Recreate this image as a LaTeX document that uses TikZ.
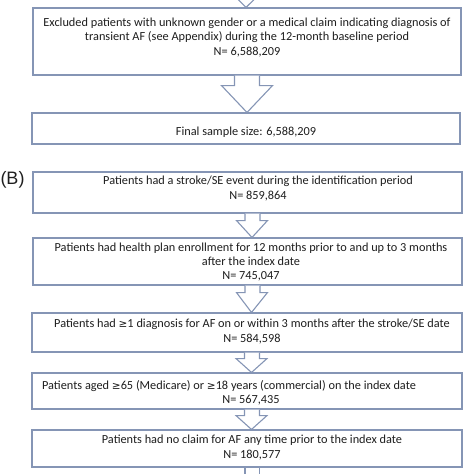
\documentclass[tikz,border=0pt]{standalone}
\usepackage{fontspec}
\setmainfont{Carlito}
\newfontfamily\labfont{Liberation Sans}
\newcommand{\geqs}{{\fontspec{DejaVu Sans}\fontsize{10.5}{14}\selectfont ≥}}
\usetikzlibrary{calc}
\definecolor{bord}{HTML}{8595B5}
\definecolor{ink}{HTML}{1E1E1E}
\tikzset{
  box/.style={draw=bord, line width=1.1pt, fill=white, inner sep=0pt},
  txt/.style={text=ink, align=center, font=\fontsize{12.3}{14.4}\selectfont, inner sep=0pt},
  blockarrow/.style={draw=bord, line width=1.1pt, fill=white, line join=miter},
}
\begin{document}
\begin{tikzpicture}[x=1pt,y=-1pt]
\useasboundingbox (0,0) rectangle (474,474);
% ---------- panel A ----------
\node[box, minimum width=428pt, minimum height=67pt] (a1) at (247,41.5) {};
\node[txt] (ta1) at (247,37.5) {Excluded patients with unknown gender or a medical claim indicating diagnosis of\\transient AF (see Appendix) during the 12-month baseline period\\N= 6,588,209};
\node[box, minimum width=428pt, minimum height=31pt] (a2) at (246,128.5) {};
\node[txt] (ta2) at (246,132) {Final sample size: 6,588,209};
% top arrow head (cut at the top edge)
\draw[blockarrow] ($(a1.north)+(-25.5,-25)$) -- ($(a1.north)+(-1,0)$) -- ($(a1.north)+(24.5,-25)$);
% arrow a1 -> a2
\draw[blockarrow] ($(a1.south)+(-12.5,0)$) -- ($(a1.south)+(-12.5,10)$) -- ($(a1.south)+(-25.5,10)$)
  -- ($(a2.north)+(1,0)$) -- ($(a1.south)+(25.5,10)$) -- ($(a1.south)+(12.5,10)$) -- ($(a1.south)+(12.5,0)$);
% ---------- panel B ----------
\node[font=\labfont\fontsize{18}{20}\selectfont, text=ink, inner sep=0pt] (lab) at (12.5,180) {(B)};
\node[box, minimum width=429pt, minimum height=41pt] (b1) at (247.5,192.5) {};
\node[txt] (tb1) at (258,188.5) {Patients had a stroke/SE event during the identification period\\N= 859,864};
\node[box, minimum width=429pt, minimum height=47pt] (b2) at (247.5,261.5) {};
\node[txt] (tb2) at (251,262) {Patients had health plan enrollment for 12 months prior to and up to 3 months\\after the index date\\N= 745,047};
\node[box, minimum width=430pt, minimum height=39pt] (b3) at (247,332.5) {};
\node[txt] (tb3) at (252,331.5) {Patients had \geqs1 diagnosis for AF on or within 3 months after the stroke/SE date\\N= 584,598};
\node[box, minimum width=430pt, minimum height=36pt] (b4) at (247,391) {};
\node[txt] (tb4) at (229,392.5) {Patients aged \geqs65 (Medicare) or \geqs18 years (commercial) on the index date\\\hspace*{44pt}N= 567,435};
\node[box, minimum width=430pt, minimum height=37pt] (b5) at (247,448.5) {};
\node[txt] (tb5) at (252,447.5) {Patients had no claim for AF any time prior to the index date\\N= 180,577};
% arrows in panel B
\foreach \u/\v/\s in {b1/b2/7, b2/b3/7, b3/b4/6, b4/b5/6}{
  \draw[blockarrow] ($(\u.south)+(-2.5,0)$) -- ($(\u.south)+(-2.5,\s)$) -- ($(\u.south)+(-11,\s)$)
    -- ($(\v.north)+(4.5,0)$) -- ($(\u.south)+(20,\s)$) -- ($(\u.south)+(12.5,\s)$) -- ($(\u.south)+(12.5,0)$);
}
\draw[blockarrow] ($(b5.south)+(-2,0)$) -- ($(b5.south)+(-2,20)$);
\draw[blockarrow] ($(b5.south)+(12.5,0)$) -- ($(b5.south)+(12.5,20)$);
\end{tikzpicture}
\end{document}
